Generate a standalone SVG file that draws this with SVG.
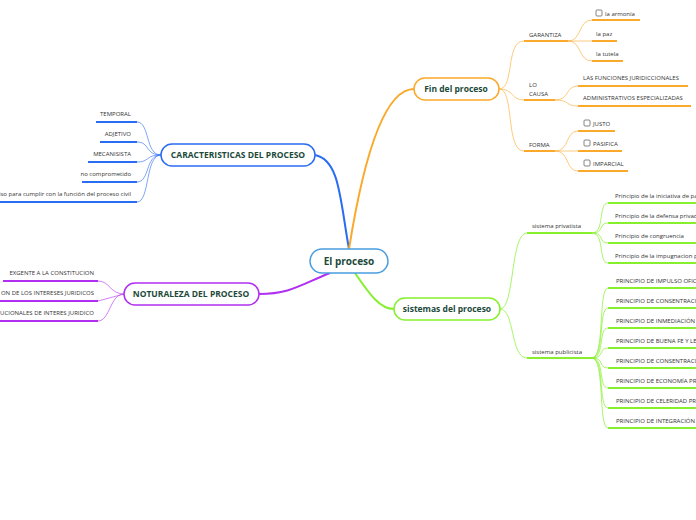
<svg xmlns="http://www.w3.org/2000/svg" width="696" height="520" viewBox="0 0 696 520">
<style>
.t{font-family:"Open Sans","Noto Sans",sans-serif;font-size:6px;fill:#333}
.h{font-family:"Open Sans","Noto Sans",sans-serif;font-size:8.5px;font-weight:bold;fill:#1c4a3a;text-anchor:middle}
.c{fill:none;stroke-width:1}
.b{stroke:#2a6cf2}.o{stroke:#fba92a}.p{stroke:#b02ff0}.g{stroke:#86f02e}
.u{stroke-width:2;fill:none}
.box{fill:#fff;stroke-width:1.5}
.cb{fill:#fff;stroke:#666;stroke-width:0.8}
</style>
<rect width="696" height="520" fill="#fff"/>
<g id="connectors">
<path class="b" d="M349 249 C340 200 340 160 315 155" stroke-width="2" fill="none"/>
<path class="o" d="M349 249 C360 180 380 89 414 89" stroke-width="2" fill="none"/>
<path class="p" d="M330 273 C300 285 290 294 259 294" stroke-width="2" fill="none"/>
<path class="g" d="M355 273 C370 295 380 309 394 309" stroke-width="2" fill="none"/>
<g class="c b" stroke-opacity="0.6">
<path d="M161 155 C145 155 150 122 137 122"/><path d="M161 155 C145 155 150 142 137 142"/><path d="M161 155 C145 155 150 162 137 162"/><path d="M161 155 C145 155 150 182 137 182"/><path d="M161 155 C145 155 150 202 137 202"/>
</g>
<g class="c p" stroke-opacity="0.6">
<path d="M124 294 C110 294 110 281 98 281"/><path d="M124 294 L98 301"/><path d="M124 294 C110 294 110 321 98 321"/>
</g>
<g class="c o" stroke-opacity="0.6">
<path d="M499 89 C515 89 505 41 524 41"/><path d="M499 89 C515 89 510 100 524 100"/><path d="M499 89 C515 89 505 151 524 151"/>
<path d="M568 41 C582 41 578 20 592 20"/><path d="M568 41 L592 41"/><path d="M568 41 C582 41 578 61 592 61"/>
<path d="M555 100 C570 100 565 86 578 86"/><path d="M555 100 C570 100 565 106 578 106"/>
<path d="M555 151 C570 151 565 131 578 131"/><path d="M555 151 L578 151"/><path d="M555 151 C570 151 565 171 578 171"/>
</g>
<g class="c g" stroke-opacity="0.7">
<path d="M500 309 C515 309 510 233 527 233"/><path d="M500 309 C515 309 510 358 527 358"/>
<path d="M592 233 C605 233 598 203 608 203"/><path d="M592 233 C605 233 598 223 608 223"/><path d="M592 233 C605 233 598 243 608 243"/><path d="M592 233 C605 233 598 263 608 263"/>
<path d="M592 358 C605 358 598 288 608 288"/><path d="M592 358 C605 358 598 308 608 308"/><path d="M592 358 C605 358 598 328 608 328"/><path d="M592 358 C605 358 598 348 608 348"/><path d="M592 358 C605 358 598 368 608 368"/><path d="M592 358 C605 358 598 388 608 388"/><path d="M592 358 C605 358 598 408 608 408"/><path d="M592 358 C605 358 598 428 608 428"/>
</g>
</g>
<g id="central"><rect class="box" x="310" y="249" width="78" height="24" rx="12" stroke="#4a9de0"/><text class="h" x="349" y="265" font-size="10" style="font-size:10px">El proceso</text></g>
<g id="caracteristicas"><rect class="box" x="161" y="144" width="154" height="22" rx="11" stroke="#2a6cf2"/><text class="h" x="238" y="158">CARACTERISTICAS DEL PROCESO</text>
<g text-anchor="end"><text class="t" x="131" y="116" text-anchor="end">TEMPORAL</text><text class="t" x="131" y="136" text-anchor="end">ADJETIVO</text><text class="t" x="131" y="156" text-anchor="end">MECANISISTA</text><text class="t" x="131" y="176" text-anchor="end">no comprometido</text><text class="t" x="131" y="196" text-anchor="end">iso para cumplir con la función del proceso civil</text></g>
<g class="u b"><path d="M96 122H137M100 142H137M88 162H137M82 182H137M0 202H137"/></g></g>
<g id="naturaleza"><rect class="box" x="124" y="283" width="135" height="22" rx="11" stroke="#b02ff0"/><text class="h" x="191" y="297">NOTURALEZA DEL PROCESO</text>
<text class="t" x="94" y="275" text-anchor="end">EXGENTE A LA CONSTITUCION</text><text class="t" x="94" y="295" text-anchor="end">ON DE LOS INTERESES JURIDICOS</text><text class="t" x="94" y="315" text-anchor="end">UCIONALES DE INTERES JURIDICO</text>
<g class="u p"><path d="M3 281H98M0 301H98M0 321H98"/></g></g>
<g id="fin"><rect class="box" x="414" y="78" width="85" height="22" rx="11" stroke="#fba92a"/><text class="h" x="456" y="92">Fin del proceso</text>
<text class="t" x="529" y="37">GARANTIZA</text><text class="t" x="529" y="87">LO</text><text class="t" x="529" y="96">CAUSA</text><text class="t" x="529" y="147">FORMA</text>
<rect class="cb" x="596" y="10" width="6" height="6" rx="1"/><text class="t" x="605" y="16">la armonía</text>
<text class="t" x="596" y="36">la paz</text><text class="t" x="596" y="56">la tutela</text>
<text class="t" x="583" y="80">LAS  FUNCIONES JURIDICCIONALES</text><text class="t" x="583" y="100">ADMINISTRATIVOS ESPECIALIZADAS</text>
<rect class="cb" x="584" y="120" width="6" height="6" rx="1"/><text class="t" x="593" y="126">JUSTO</text>
<rect class="cb" x="584" y="140" width="6" height="6" rx="1"/><text class="t" x="593" y="146">PASIFICA</text>
<rect class="cb" x="584" y="160" width="6" height="6" rx="1"/><text class="t" x="593" y="166">IMPARCIAL</text>
<g class="u o"><path d="M524 41H568M524 100H555M524 151H555M592 20H640M592 41H617M592 61H623M578 86H688M578 106H691M578 131H615M578 151H622M578 171H628"/></g></g>
<g id="sistemas"><rect class="box" x="394" y="298" width="106" height="22" rx="11" stroke="#86f02e"/><text class="h" x="447" y="312">sistemas del proceso</text>
<text class="t" x="532" y="228">sistema privatista</text><text class="t" x="532" y="354">sistema publicista</text>
<text class="t" x="615" y="198">Principio de la iniciativa de parte</text><text class="t" x="615" y="218">Principio de la defensa privada</text><text class="t" x="615" y="238">Principio de congruencia</text><text class="t" x="615" y="258">Principio de la impugnacion privada</text>
<text class="t" x="616" y="283">PRINCIPIO DE IMPULSO OFICIOSO</text><text class="t" x="616" y="303">PRINCIPIO DE CONSENTRACIÓN</text><text class="t" x="616" y="323">PRINCIPIO DE  INMEDIACIÓN</text><text class="t" x="616" y="343">PRINCIPIO DE BUENA FE Y LEALTAD</text><text class="t" x="616" y="363">PRINCIPIO DE CONSENTRACIÓN</text><text class="t" x="616" y="383">PRINCIPIO DE ECONOMÍA PROCESAL</text><text class="t" x="616" y="403">PRINCIPIO DE CELERIDAD PROCESAL</text><text class="t" x="616" y="423">PRINCIPIO DE INTEGRACIÓN</text>
<g class="u g"><path d="M527 233H592M527 358H592M608 203H696M608 223H696M608 243H696M608 263H696M608 288H696M608 308H696M608 328H696M608 348H696M608 368H696M608 388H696M608 408H696M608 428H696"/></g></g>
</svg>
